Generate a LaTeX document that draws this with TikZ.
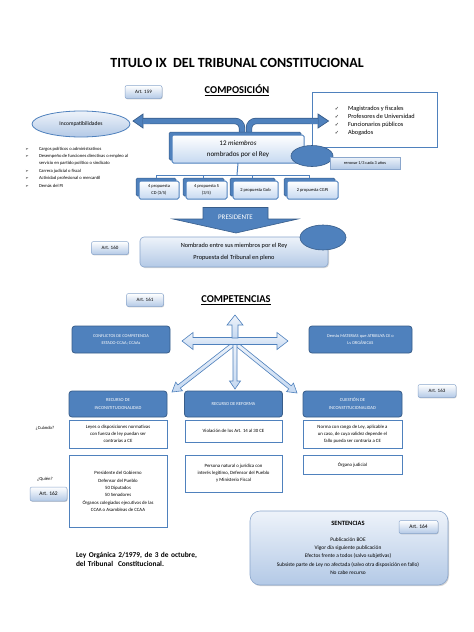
\documentclass[tikz,border=0pt]{standalone}
\usepackage{fontspec}
\setmainfont{Carlito}
\newfontfamily\symf{DejaVu Sans}
\usetikzlibrary{shapes.geometric,shadows}
\definecolor{dblue}{HTML}{4F81BD}
\definecolor{dborder}{HTML}{385D8A}
\definecolor{lb0}{HTML}{EEF3FA}
\definecolor{lb1}{HTML}{C6D9F1}
\definecolor{lb2}{HTML}{B3C9E6}
\definecolor{btnb}{HTML}{8AA6CC}
\newcommand\fsz[2]{\fontsize{#1}{#2}\selectfont}
\newcommand\barrow[8]{%
 \pgfmathsetmacro\badx{#3-#1}\pgfmathsetmacro\bady{#4-#2}%
 \pgfmathsetmacro\balen{sqrt(\badx*\badx+\bady*\bady)}%
 \pgfmathsetmacro\baux{\badx/\balen}\pgfmathsetmacro\bauy{\bady/\balen}%
 \pgfmathsetmacro\babx{#3-#7*\baux}\pgfmathsetmacro\baby{#4-#7*\bauy}%
 \draw[#8] ({#1-#5*\bauy},{#2+#5*\baux}) -- ({\babx-#5*\bauy},{\baby+#5*\baux}) -- ({\babx-#6*\bauy},{\baby+#6*\baux}) -- (#3,#4) -- ({\babx+#6*\bauy},{\baby-#6*\baux}) -- ({\babx+#5*\bauy},{\baby-#5*\baux}) -- ({#1+#5*\bauy},{#2-#5*\baux}) -- cycle;}
\tikzset{
 every node/.style={inner sep=0pt, outer sep=0pt},
 artbtn/.style={draw=btnb, line width=0.5pt, rounded corners=2pt, top color=white, bottom color=lb2, minimum width=37pt, minimum height=13pt, font=\fsz{5}{6}, drop shadow={shadow xshift=0.6pt, shadow yshift=-0.8pt, opacity=0.35}},
 lgbox/.style={draw=btnb, line width=0.6pt, top color=lb0, bottom color=lb2, align=center},
 darkbox/.style={draw=dborder, line width=0.8pt, fill=dblue, rounded corners=3pt, text=white, align=center, font=\fsz{4.4}{7}},
 wbox/.style={draw=dblue, line width=1pt, fill=white, align=center, font=\fsz{4.8}{7}},
 darkell/.style={ellipse, fill=dblue, draw=dborder, line width=0.6pt},
 carrow/.style={draw=dblue, line width=0.6pt, top color=lb0, bottom color=lb1},
 stackbox/.style={draw=dblue, line width=1pt, top color=white, bottom color=lb1, align=center, rounded corners=1.5pt, general shadow={shadow xshift=-3pt, shadow yshift=3pt, fill=dblue, draw=dborder, line width=0.5pt}},
 treeline/.style={draw=dblue, line width=1pt},
 txt/.style={align=center},
}
\begin{document}
\begin{tikzpicture}[x=1pt,y=-1pt]
\fill[white] (0,0) rectangle (474,632);
\useasboundingbox (0,0) rectangle (474,632);

% ---------- titles ----------
\node[font=\bfseries\fsz{14}{16}] (title) at (237,63) {TITULO IX\ \ DEL TRIBUNAL CONSTITUCIONAL};
\node[font=\bfseries\fsz{10.5}{12}] (compos) at (237,90) {\underline{COMPOSICIÓN}};
\node[artbtn] (a159) at (143.5,92) {Art. 159};

% ---------- incompatibilidades ----------
\node[ellipse, draw=dblue, line width=0.8pt, top color=lb0, bottom color=lb2, minimum width=98pt, minimum height=26pt, font=\fsz{5.6}{7}] (incomp) at (81,124) {Incompatibilidades};
\foreach \yy/\tx [count=\i] in {150/Cargos políticos o administrativos, 157.5/Desempeño de funciones directivas o empleo al, 164.5/servicio en partido político o sindicato, 172/Carrera judicial o fiscal, 179.5/Actividad profesional o mercantil, 187/Demás del PJ}
 {\node[anchor=base west, font=\fsz{4.6}{6}] (bl\i) at (39,\yy) {\tx};}
\foreach \yy [count=\i] in {150,157.5,172,179.5,187}
 {\node[anchor=base, font=\symf\fsz{4}{5}] (bu\i) at (27,\yy) {➢};}

% ---------- checklist ----------
\node[draw=dblue, line width=1pt, fill=white, minimum width=125pt, minimum height=55pt] (chk) at (374.5,119.5) {};
\foreach \tx [count=\i] in {Magistrados y fiscales, Profesores de Universidad, Funcionarios públicos, Abogados}
 {\node[anchor=base west, font=\fsz{6.3}{8}] (ck\i) at (348,{102+8*\i}) {\tx};
  \node[anchor=base, font=\symf\fsz{5}{6}] (cm\i) at (337,{102+8*\i}) {✓};}

% ---------- curved arrows ----------
\draw[dborder, line width=6.4pt, rounded corners=7pt] (242,138) |- (141,121);
\draw[dblue, line width=5pt, rounded corners=7pt] (242,138) |- (141,121);
\draw[dborder, line width=6.4pt, rounded corners=7pt] (249,138) |- (320,121);
\draw[dblue, line width=5pt, rounded corners=7pt] (249,138) |- (320,121);
\draw[fill=dblue, draw=dborder, line width=0.7pt] (143,114) -- (133,121) -- (143,128) -- cycle;
\draw[dblue, line width=5pt] (150,121) -- (142.6,121);
\draw[fill=dblue, draw=dborder, line width=0.7pt] (318,114) -- (328.5,121) -- (318,128) -- cycle;
\draw[dblue, line width=5pt] (310,121) -- (318.4,121);

% ---------- 12 miembros ----------
\node[stackbox, minimum width=132pt, minimum height=28pt, font=\fsz{7}{11.5}] (m12) at (238,149) {12 \textit{miembros}\\nombrados por el Rey};

\node[darkell, minimum width=42pt, minimum height=21pt] (el1) at (312,156) {};
\node[lgbox, minimum width=70pt, minimum height=12pt, font=\fsz{4.3}{5}, drop shadow={shadow xshift=0.8pt, shadow yshift=-0.8pt, opacity=0.3}] (renov) at (365,163) {renovar 1/3 cada 3 años};

% ---------- proposals ----------
\node[stackbox, minimum width=40pt, minimum height=18pt, font=\fsz{4.5}{7}] (p1) at (159,190) {4 propuesta\\CD (3/5)};
\node[stackbox, minimum width=41pt, minimum height=18pt, font=\fsz{4.5}{7}] (p2) at (206.5,190) {4 propuesta S\\(3/5)};
\node[stackbox, minimum width=45pt, minimum height=18pt, font=\fsz{4.5}{7}] (p3) at (255.5,190) {2 propuesta Gob};
\node[stackbox, minimum width=51pt, minimum height=18pt, font=\fsz{4.5}{7}] (p4) at (312.5,190) {2 propuesta CGPJ};
\coordinate (tb) at (237,175);
\coordinate (tl) at (156,175);
\coordinate (tr) at (309.5,175);
\draw[treeline] (m12.south) -- (tb);
\draw[treeline] (tl) -- (tr);
\draw[treeline] (tl) -- (156,178);
\draw[treeline] (203.5,175) -- (203.5,178);
\draw[treeline] (252.5,175) -- (252.5,178);
\draw[treeline] (tr) -- (309.5,178);

% ---------- presidente ----------
\draw[fill=dblue, draw=dborder, line width=0.6pt] (203,207.5) -- (268,207.5) -- (268,219) -- (298,219) -- (236,233) -- (173,219) -- (203,219) -- cycle;
\node[text=white, font=\fsz{7}{8}] (pres) at (235.5,217) {PRESIDENTE};

\node[lgbox, rounded corners=4pt, minimum width=188pt, minimum height=30pt, font=\fsz{6.3}{12.5}, drop shadow={shadow xshift=1pt, shadow yshift=-1pt, opacity=0.3}] (nomb) at (234,252) {Nombrado entre sus miembros por el Rey\\Propuesta del Tribunal en pleno};
\node[darkell, minimum width=46pt, minimum height=25pt] (el2) at (323,237.5) {};
\node[artbtn] (a160) at (110,248) {Art. 160};

% ---------- competencias ----------
\node[font=\bfseries\fsz{10.5}{12}] (compet) at (236,300) {\underline{COMPETENCIAS}};
\node[artbtn] (a161) at (145,300) {Art. 161};

\node[darkbox, minimum width=98pt, minimum height=27pt] (conf) at (121,339.5) {CONFLICTOS DE COMPETENCIA\\ESTADO-CCAA; CCAAs};
\node[darkbox, minimum width=103pt, minimum height=27pt] (demas) at (360.5,339.5) {Demás MATERIAS que ATRIBUYA CE o\\Ls ORGÁNICAS};

\barrow{235}{343}{172}{392}{2}{5.5}{9}{carrow}
\barrow{235}{343}{297}{393}{2}{5.5}{9}{carrow}
\barrow{235}{341}{235}{389}{2}{5.5}{8}{carrow}
\draw[carrow] (182,341) -- (193,332.5) -- (193,337.5) -- (277,337.5) -- (277,332.5) -- (288,341) -- (277,349.5) -- (277,344.5) -- (193,344.5) -- (193,349.5) -- cycle;
\barrow{235}{338}{235}{315}{3}{8}{10}{carrow}

\node[artbtn, minimum width=38pt] (a163) at (437,391) {Art. 163};

\node[darkbox, minimum width=98pt, minimum height=26pt, font=\fsz{4.6}{8}] (h1) at (118,404) {RECURSO DE\\INCONSTITUCIONALIDAD};
\node[darkbox, minimum width=98pt, minimum height=26pt, font=\fsz{4.6}{8}] (h2) at (233.5,404) {RECURSO DE REFORMA};
\node[darkbox, minimum width=99pt, minimum height=26pt, font=\fsz{4.6}{8}] (h3) at (352.5,404) {CUESTIÓN DE\\INCONSTITUCIONALIDAD};

\node[wbox, minimum width=98pt, minimum height=28pt] (c1) at (118,434) {Leyes o disposiciones normativas\\con fuerza de ley puedan ser\\contrarias a CE};
\node[wbox, minimum width=97pt, minimum height=22pt] (c2) at (233.5,431) {Violación de los Art. 14 al 30 CE};
\node[wbox, minimum width=99pt, minimum height=28pt] (c3) at (352.5,434) {Norma con rango de Ley, aplicable a\\un caso, de cuya validez depende el\\fallo pueda ser contraria a CE};
\node[font=\fsz{4.6}{6}] (cuando) at (45,428) {¿Cuándo?};

\node[wbox, minimum width=98pt, minimum height=72pt, font=\fsz{4.8}{7.4}] (q1) at (118,491.5) {Presidente del Gobierno\\Defensor del Pueblo\\50 Diputados\\50 Senadores\\Órganos colegiados ejecutivos de las\\CCAA o Asambleas de CCAA};
\node[wbox, minimum width=97pt, minimum height=37pt] (q2) at (233.5,473.5) {Persona natural o jurídica con\\interés legítimo, Defensor del Pueblo\\y Ministerio Fiscal};
\node[wbox, minimum width=99pt, minimum height=19pt] (q3) at (352.5,464.5) {Órgano judicial};
\node[font=\fsz{4.6}{6}] (quien) at (45,479) {¿Quién?};
\node[artbtn, minimum height=14pt, font=\fsz{5.5}{6}] (a162) at (48.5,494) {Art. 162};

% ---------- sentencias ----------
\node[lgbox, rounded corners=10pt, minimum width=198pt, minimum height=74pt, drop shadow={shadow xshift=1pt, shadow yshift=-1.2pt, opacity=0.35}] (sbox) at (349,548) {};
\node[font=\bfseries\fsz{6.5}{8}] (stit) at (348,523) {SENTENCIAS};
\node[artbtn, minimum width=39pt, font=\fsz{5.5}{6}] (a164) at (418.5,527) {Art. 164};
\node[font=\fsz{5.4}{8.2}, align=center] (slines) at (348,556) {Publicación BOE\\Vigor día siguiente publicación\\Efectos frente a todos (salvo subjetivas)\\Subsiste parte de Ley no afectada (salvo otra disposición en fallo)\\No cabe recurso};

% ---------- ley organica ----------
\node[font=\bfseries\fsz{7.4}{8.6}, text width=137pt, align=left] (ley) at (144.5,559.5) {\makebox[137pt][s]{Ley Orgánica 2/1979, de 3 de octubre,}\\del Tribunal\ \ Constitucional.};
\end{tikzpicture}
\end{document}
